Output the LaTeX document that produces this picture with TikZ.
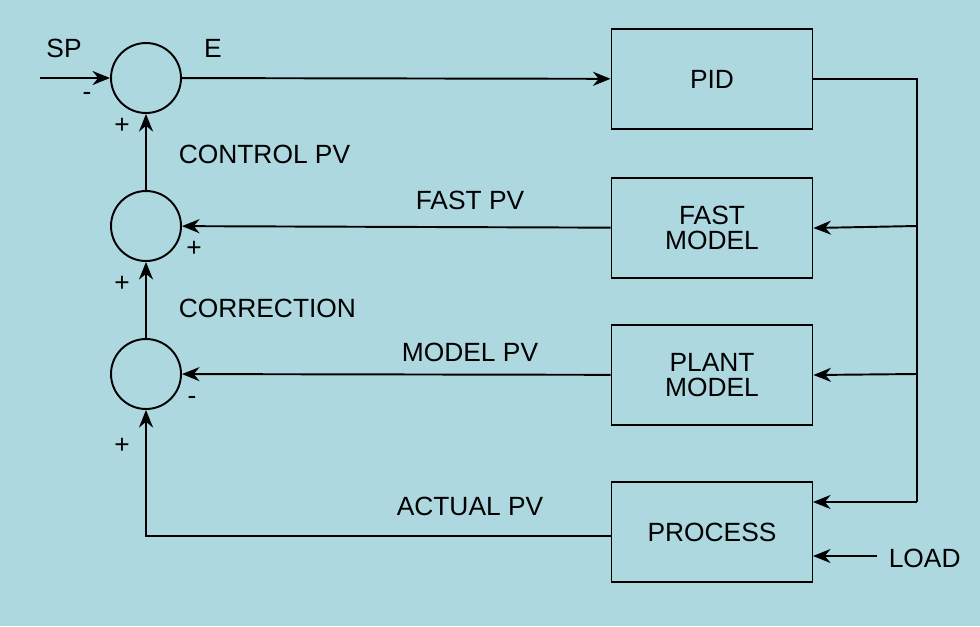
\documentclass[tikz,border=0pt]{standalone}
\usepackage{fontspec}
\setmainfont{Liberation Sans}
\usetikzlibrary{arrows.meta}
\definecolor{bg}{HTML}{ADD8E0}
\begin{document}
\begin{tikzpicture}[x=0.02cm,y=-0.02cm,line width=1.1pt,
  lbl/.style={font=\fontsize{15}{15}\selectfont},
  sum/.style={draw,circle,minimum size=1.4cm,inner sep=0pt},
  blk/.style={draw,minimum width=4.02cm,minimum height=2cm,align=center,font=\fontsize{15}{14}\selectfont},
  arr/.style={-{Stealth[length=10pt,width=8pt]}}]
\fill[bg] (0,0) rectangle (980,626);
\useasboundingbox (0,0) rectangle (980,626);
\node[sum] (s1) at (146,78) {};
\node[sum] (s2) at (146,226) {};
\node[sum] (s3) at (146,374) {};
\node[blk] (pid) at (712,79) {PID};
\node[blk] (fast) at (712,228) {FAST\\MODEL};
\node[blk] (plant) at (712,375) {PLANT\\MODEL};
\node[blk] (proc) at (712,532) {PROCESS};
\coordinate (spin) at (40,78);
\coordinate (r1) at (917,79);
\coordinate (r4) at (917,502);
\coordinate (ld) at (877,556);
\coordinate (pl) at (146,536);
\draw[arr] (spin) -- (s1);
\draw[arr] (s1) -- (pid);
\draw (pid.east) -- (r1) -- (r4);
\draw[arr] (917,226) -- (fast.east);
\draw[arr] (917,374) -- (plant.east);
\draw[arr] (r4) -- (813,502);
\draw[arr] (ld) -- (813,556);
\draw[arr] (fast) -- (s2);
\draw[arr] (plant) -- (s3);
\draw[arr] (s3) -- (s2);
\draw[arr] (s2) -- (s1);
\draw[arr] (612,536) -- (pl) -- (s3.south);
\node[lbl] at (64,48) {SP};
\node[lbl] at (87,96) {-};
\node[lbl] at (213,48) {E};
\node[lbl] at (122,126) {+};
\node[lbl,anchor=west] at (172,154) {CONTROL PV};
\node[lbl] at (470,200) {FAST PV};
\node[lbl] at (194,249) {+};
\node[lbl] at (122,284) {+};
\node[lbl,anchor=west] at (172,308) {CORRECTION};
\node[lbl] at (470,352) {MODEL PV};
\node[lbl] at (192,400) {-};
\node[lbl] at (122,446) {+};
\node[lbl] at (470,506) {ACTUAL PV};
\node[lbl,anchor=west] at (882,558) {LOAD};
\end{tikzpicture}
\end{document}
